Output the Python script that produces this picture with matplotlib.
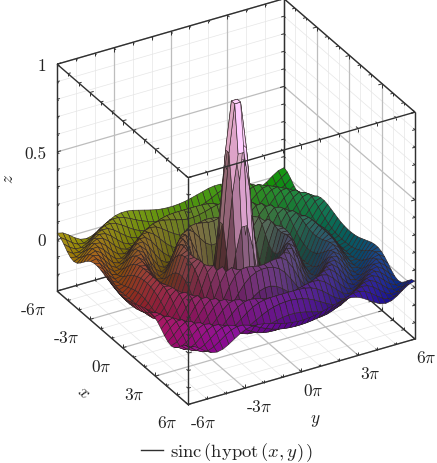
import numpy as np
import matplotlib
matplotlib.use("Agg")
import matplotlib.pyplot as plt
from matplotlib.lines import Line2D
from mpl_toolkits.mplot3d import proj3d

plt.rcParams['font.family'] = ['cmr10', 'DejaVu Sans']
plt.rcParams['mathtext.fontset'] = 'cm'
plt.rcParams['axes.formatter.use_mathtext'] = True

PI = np.pi
x_range = (-6 * PI, 6 * PI)
y_range = (-6 * PI, 6 * PI)
z_range = (-0.293, 1.0)

x_major = [-6, -3, 0, 3, 6]
y_major = [-6, -3, 0, 3, 6]
z_major = [0, 0.5, 1]
x_labels = ['-6$\\pi$', '-3$\\pi$', '0$\\pi$', '3$\\pi$', '6$\\pi$']
y_labels = ['-6$\\pi$', '-3$\\pi$', '0$\\pi$', '3$\\pi$', '6$\\pi$']
z_labels = ['0', '0.5', '1']
legend_label = r'$\mathrm{sinc}\,(\mathrm{hypot}\,(x,y)\,)$'

# Heights read from the surface, one triangular row per grid index away from the
# centre; the picture is symmetric in x, y and in swapping them.
z_rows = [
 [.924],
 [.654, .433],
 [.254, .113, -.080],
 [-.080, -.139, -.204, -.208],
 [-.216, -.216, -.194, -.127, -.021],
 [-.152, -.127, -.073, .003, .080, .126],
 [.003, .025, .064, .106, .128, .113, .058],
 [.115, .122, .128, .124, .098, .047, -.018, -.072],
 [.113, .106, .089, .058, .014, -.036, -.077, -.091, -.070],
 [.025, .014, -.008, -.036, -.066, -.087, -.089, -.065, -.020, .031],
 [-.066, -.072, -.081, -.089, -.090, -.078, -.049, -.007, .036, .066, .068],
 [-.089, -.087, -.082, -.070, -.049, -.020, .016, .049, .069, .067, .040, -.001],
 [-.038, -.032, -.020, -.001, .021, .045, .064, .071, .061, .033, -.005, -.040, -.057],
 [.036, .041, .049, .059, .067, .071, .065, .047, .018, -.015, -.044, -.058, -.049, -.021],
 [.071, .071, .070, .067, .059, .044, .022, -.005, -.032, -.052, -.058, -.046, -.018, .016, .042],
 [.044, .040, .033, .022, .007, -.012, -.032, -.048, -.057, -.054, -.038, -.010, .020, .043, .049, .034],
 [-.015, -.019, -.026, -.035, -.044, -.053, -.058, -.055, -.044, -.023, .003, .029, .046, .048, .032, .005, -.024],
 [-.055, -.056, -.057, -.058, -.056, -.051, -.040, -.023, -.002, .020, .039, .049, .045, .027, .001, -.025, -.041, -.039],
 [-.046, -.044, -.040, -.033, -.023, -.010, .005, .022, .037, .047, .048, .038, .018, -.007, -.029, -.042, -.038, -.020, .006],
 [.000, .003, .008, .016, .025, .034, .043, .048, .048, .041, .026, .005, -.017, -.035, -.042, -.036, -.017, .008, .029, .037],
]

n_half = len(z_rows)
Z = np.zeros((2 * n_half, 2 * n_half))
for a in range(2 * n_half):
    for b in range(2 * n_half):
        ia = a - n_half if a >= n_half else n_half - 1 - a
        ib = b - n_half if b >= n_half else n_half - 1 - b
        Z[a, b] = z_rows[max(ia, ib)][min(ia, ib)]
gx = np.linspace(*x_range, 2 * n_half)
gy = np.linspace(*y_range, 2 * n_half)
X, Y = np.meshgrid(gx, gy, indexing='ij')

U = (X - x_range[0]) / (x_range[1] - x_range[0])
V = (Y - y_range[0]) / (y_range[1] - y_range[0])
E = 0.6 + 1.4 * (1 - V)
colors = np.dstack([
    0.05 + 0.58 * (1 - V) + 0.78 * Z,
    0.05 + 0.52 * (1 - U) ** E + 0.60 * Z,
    0.05 + 0.55 * U ** E + 0.78 * Z,
    np.ones_like(Z)])
colors = np.clip(colors, 0, 1)

fig = plt.figure(figsize=(4.37, 4.64), dpi=100)
ax = fig.add_axes([11.6 / 437, 37 / 464, 1.0, 437 / 464], projection='3d')
ax.set_proj_type('ortho')
ax.view_init(elev=30, azim=-30)
ax.set_box_aspect((1, 1, 1), zoom=1.008)
ax.set_xlim(*x_range)
ax.set_ylim(*y_range)
ax.set_zlim(*z_range)
ax.set_axis_off()
ax.computed_zorder = False
ax.patch.set_alpha(0)

xmin, xmax = x_range
ymin, ymax = y_range
zmin, zmax = z_range
x_all = np.arange(-6, 7) * PI
y_all = np.arange(-6, 7) * PI
z_all = np.arange(-2, 11) / 10


def seg(p, q, **kw):
    ax.plot([p[0], q[0]], [p[1], q[1]], [p[2], q[2]], solid_capstyle='butt', **kw)


def grid_line(p, q, major):
    seg(p, q, color='#bdbdbd' if major else '#e6e6e6', lw=0.9 if major else 0.5,
        zorder=2 if major else 1)


for xv in x_all:
    m = abs(xv / (3 * PI) - round(xv / (3 * PI))) < 1e-6
    grid_line((xv, ymin, zmin), (xv, ymax, zmin), m)
    grid_line((xv, ymax, zmin), (xv, ymax, zmax), m)
for yv in y_all:
    m = abs(yv / (3 * PI) - round(yv / (3 * PI))) < 1e-6
    grid_line((xmin, yv, zmin), (xmax, yv, zmin), m)
    grid_line((xmin, yv, zmin), (xmin, yv, zmax), m)
for zv in z_all:
    m = abs(zv * 2 - round(zv * 2)) < 1e-6
    grid_line((xmin, ymin, zv), (xmin, ymax, zv), m)
    grid_line((xmin, ymax, zv), (xmax, ymax, zv), m)

# surface
ax.plot_surface(X, Y, Z, facecolors=colors, rstride=1, cstride=1, shade=False,
                edgecolor='#2e2424', linewidth=0.42, antialiased=True, zorder=4)

# frame: 12 edges, each with ticks pointing into its two faces
spans = (xmax - xmin, ymax - ymin, zmax - zmin)
edge_color = '#303030'


def edge(axis, fixed, front):
    zo = 6 if front else 3
    lo = [xmin, ymin, zmin][axis]
    hi = [xmax, ymax, zmax][axis]
    others = [i for i in range(3) if i != axis]
    a = [0, 0, 0]
    b = [0, 0, 0]
    a[axis], b[axis] = lo, hi
    for k, i in enumerate(others):
        a[i] = b[i] = fixed[k]
    seg(a, b, color=edge_color, lw=1.0, zorder=zo)
    vals = [x_all, y_all, z_all][axis]
    for v in vals:
        if axis == 2:
            major = abs(v * 2 - round(v * 2)) < 1e-6
        else:
            major = abs(v / (3 * PI) - round(v / (3 * PI))) < 1e-6
        length = 0.017 if major else 0.012
        for i in others:
            mid = ([xmin, ymin, zmin][i] + [xmax, ymax, zmax][i]) / 2
            p = list(a)
            p[axis] = v
            q = list(p)
            q[i] = p[i] + np.sign(mid - p[i]) * length * spans[i]
            seg(p, q, color=edge_color, lw=0.7, zorder=zo)


edge(0, (ymin, zmin), True)
edge(0, (ymax, zmin), False)
edge(0, (ymin, zmax), True)
edge(0, (ymax, zmax), False)
edge(1, (xmax, zmin), True)
edge(1, (xmin, zmin), False)
edge(1, (xmax, zmax), True)
edge(1, (xmin, zmax), False)
edge(2, (xmax, ymin), True)
edge(2, (xmin, ymin), False)
edge(2, (xmax, ymax), False)
edge(2, (xmin, ymax), False)


def label(p, text, off, **kw):
    px, py, _ = proj3d.proj_transform(p[0], p[1], p[2], ax.get_proj())
    kw.setdefault('ha', 'center')
    ax.annotate(text, xy=(px, py), xytext=off, textcoords='offset pixels', va='center',
                annotation_clip=False, color='#222222', zorder=8, **kw)


fs = 12.5
for v, t in zip(x_major, x_labels):
    label((v * PI, ymin, zmin), t, (-11, -18), fontsize=fs, ha='right')
for v, t in zip(y_major, y_labels):
    label((xmax, v * PI, zmin), t, (1.5, -18), fontsize=fs, ha='left')
for v, t in zip(z_major, z_labels):
    label((xmin, ymin, v), t, (-11, -1), fontsize=fs, ha='right')

label((0, ymin, zmin), r'$x$', (-39, -44), fontsize=fs, rotation=-40, rotation_mode='anchor')
label((xmax, 0, zmin), r'$y$', (14, -48), fontsize=fs)
label((xmin, ymin, 0.35), r'$z$', (-49, 0), fontsize=fs, rotation=90)

fig.legend(handles=[Line2D([], [], color='#303030', lw=1.0)], labels=[legend_label],
           loc='center', bbox_to_anchor=(0.52, 0.024), frameon=False, fontsize=13.4,
           handlelength=1.2, handletextpad=0.4, labelcolor='#222222')

fig.savefig('out.png', dpi=100)
